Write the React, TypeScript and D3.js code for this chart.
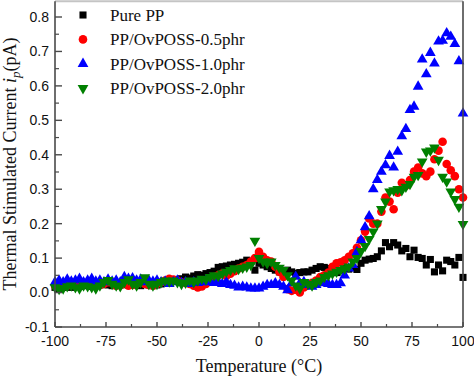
import React from "react";
import * as d3 from "d3";

const temps = [
  -100, -98, -96, -94, -92, -90, -88, -86, -84, -82, -80, -78, -76, -74, -72, -70, -68, -66, -64, -62,
  -60, -58, -56, -54, -52, -50, -48, -46, -44, -42, -40, -38, -36, -34, -32, -30, -28, -26, -24, -22,
  -20, -18, -16, -14, -12, -10, -8, -6, -4, -2, 0, 2, 4, 6, 8, 10, 12, 14, 16, 18,
  20, 22, 24, 26, 28, 30, 32, 34, 36, 38, 40, 42, 44, 46, 48, 50, 52, 54, 56, 58,
  60, 62, 64, 66, 68, 70, 72, 74, 76, 78, 80, 82, 84, 86, 88, 90, 92, 94, 96, 98, 100,
];

const purePP = [
  0.015, 0.012, 0.015, 0.018, 0.015, 0.02, 0.018, 0.02, 0.022, 0.018, 0.02, 0.022, 0.025, 0.022, 0.02, 0.025, 0.022, 0.025, 0.022, 0.025,
  0.022, 0.02, 0.025, 0.022, 0.02, 0.022, 0.025, 0.028, 0.03, 0.035, 0.038, 0.04, 0.045, 0.042, 0.048, 0.052, 0.05, 0.055, 0.058, 0.062,
  0.073, 0.075, 0.077, 0.08, 0.082, 0.085, 0.088, 0.094, 0.09, 0.065, 0.085, 0.08, 0.075, 0.07, 0.065, 0.06, 0.058, 0.065, 0.06, 0.056,
  0.058, 0.06, 0.06, 0.065, 0.07, 0.075, 0.073, 0.07, 0.062, 0.058, 0.065, 0.07, 0.068, 0.072, 0.067, 0.085, 0.094, 0.097, 0.099, 0.104,
  0.121, 0.145, 0.133, 0.145, 0.138, 0.121, 0.128, 0.104, 0.123, 0.102, 0.099, 0.08, 0.096, 0.06, 0.08, 0.063, 0.094, 0.09, 0.08, 0.102, 0.044,
];

const pp05 = [
  0.02, 0.022, 0.025, 0.02, 0.025, 0.022, 0.025, 0.028, 0.025, 0.03, 0.025, 0.022, 0.025, 0.03, 0.028, 0.02, 0.022, 0.025, 0.02, 0.022,
  0.025, 0.03, 0.025, 0.022, 0.02, 0.025, 0.03, 0.035, 0.04, 0.038, 0.035, 0.03, 0.028, 0.025, 0.02, 0.015, 0.018, 0.025, 0.035, 0.045,
  0.05, 0.055, 0.048, 0.055, 0.062, 0.07, 0.075, 0.08, 0.09, 0.1, 0.118, 0.104, 0.094, 0.09, 0.075, 0.06, 0.045, 0.01, 0.005, 0.008,
  0.0, 0.015, 0.022, 0.028, 0.035, 0.045, 0.05, 0.058, 0.075, 0.085, 0.088, 0.094, 0.104, 0.114, 0.13, 0.152, 0.177, 0.215, 0.2, 0.2,
  0.235, 0.276, 0.264, 0.242, 0.29, 0.319, 0.31, 0.327, 0.351, 0.363, 0.346, 0.338, 0.351, 0.387, 0.412, 0.438, 0.373, 0.355, 0.338, 0.3, 0.276,
];

const pp10 = [
  0.03, 0.035, 0.03, 0.038, 0.032, 0.035, 0.04, 0.03, 0.035, 0.04, 0.032, 0.035, 0.03, 0.038, 0.032, 0.035, 0.03, 0.045, 0.04, 0.042,
  0.035, 0.038, 0.03, 0.035, 0.032, 0.035, 0.03, 0.032, 0.025, 0.03, 0.035, 0.028, 0.03, 0.025, 0.03, 0.028, 0.03, 0.035, 0.03, 0.028,
  0.032, 0.025, 0.03, 0.022, 0.02, 0.015, 0.017, 0.015, 0.012, 0.012, 0.012, 0.017, 0.022, 0.022, 0.027, 0.022, 0.017, 0.007, 0.027, 0.046,
  0.027, 0.031, 0.022, 0.017, 0.022, 0.027, 0.031, 0.025, 0.022, 0.022, 0.027, 0.05, 0.07, 0.08, 0.118, 0.152, 0.19, 0.222, 0.3, 0.327,
  0.351, 0.37, 0.397, 0.363, 0.409, 0.454, 0.475, 0.53, 0.54, 0.598, 0.677, 0.634, 0.696, 0.665, 0.729, 0.731, 0.753, 0.743, 0.722, 0.672, 0.52,
];

const pp20 = [
  0.015, 0.01, 0.012, 0.018, 0.02, 0.015, 0.012, 0.02, 0.018, 0.015, 0.012, 0.02, 0.03, 0.036, 0.025, 0.02, 0.018, 0.03, 0.038, 0.025,
  0.02, 0.03, 0.044, 0.025, 0.02, 0.025, 0.03, 0.035, 0.032, 0.035, 0.03, 0.025, 0.028, 0.035, 0.03, 0.035, 0.04, 0.038, 0.045, 0.05,
  0.048, 0.055, 0.06, 0.065, 0.07, 0.068, 0.072, 0.075, 0.08, 0.15, 0.1, 0.09, 0.085, 0.09, 0.08, 0.072, 0.065, 0.05, 0.035, 0.02,
  0.012, 0.03, 0.025, 0.02, 0.03, 0.035, 0.045, 0.05, 0.055, 0.06, 0.065, 0.07, 0.075, 0.09, 0.1, 0.12, 0.135, 0.155, 0.177, 0.2,
  0.242, 0.264, 0.293, 0.297, 0.3, 0.297, 0.307, 0.315, 0.336, 0.341, 0.38, 0.409, 0.412, 0.421, 0.385, 0.336, 0.322, 0.293, 0.271, 0.249, 0.199,
];

const seriesNames = ["Pure PP", "PP/OvPOSS-0.5phr", "PP/OvPOSS-1.0phr", "PP/OvPOSS-2.0phr"];
const seriesColors = ["#000000", "#ff0000", "#0000ff", "#008000"];
const seriesValues = [purePP, pp05, pp10, pp20];

const xTicks = [-100, -75, -50, -25, 0, 25, 50, 75, 100];
const yTicks = [-0.1, 0.0, 0.1, 0.2, 0.3, 0.4, 0.5, 0.6, 0.7, 0.8];

const W = 474;
const H = 377;

export default function App() {
  const x = d3.scaleLinear().domain([-100, 100]).range([55, 463]);
  const y = d3.scaleLinear().domain([-0.1, 0.8]).range([327, 17]);
  const yTop = y(0.846);

  const shapes = [
    d3.symbol().type(d3.symbolSquare).size(50),
    d3.symbol().type(d3.symbolCircle).size(58),
    d3.symbol().type(d3.symbolTriangle).size(50),
    d3.symbol().type(d3.symbolTriangle).size(50),
  ];
  const rot = [0, 0, 0, 180];

  const xMinor = d3.range(-87.5, 100, 25);
  const yMinor = d3.range(-0.05, 0.85, 0.1);
  const axisColor = "#4a4a4a";
  const sans = "'Liberation Sans', Arial, sans-serif";
  const serif = "'Liberation Serif', 'Times New Roman', serif";

  return (
    <svg width={W} height={H} style={{ position: "absolute", left: 0, top: 0, background: "#fff" }}>
      <rect x={0} y={0} width={W} height={H} fill="#fff" />
      {seriesValues.map((vals, si) => (
        <g key={si} fill={seriesColors[si]}>
          {vals.map((v, i) => (
            <path
              key={i}
              d={shapes[si]() as string}
              transform={`translate(${x(temps[i])},${y(v)}) rotate(${rot[si]})`}
            />
          ))}
        </g>
      ))}
      <line x1={x(-100)} x2={x(100)} y1={yTop} y2={yTop} stroke="#c4c4c4" strokeWidth={2} />
      <line x1={x(100)} x2={x(100)} y1={yTop} y2={y(-0.1)} stroke={axisColor} strokeWidth={1.6} />
      <line x1={x(-100)} x2={x(-100)} y1={yTop} y2={y(-0.1)} stroke={axisColor} strokeWidth={1.6} />
      <line x1={x(-100)} x2={x(100)} y1={y(-0.1)} y2={y(-0.1)} stroke={axisColor} strokeWidth={1.6} />
      {yTicks.map((t) => (
        <g key={t}>
          <line x1={x(-100)} x2={x(-100) + 7} y1={y(t)} y2={y(t)} stroke={axisColor} strokeWidth={1.4} />
          <text x={x(-100) - 6} y={y(t)} dy="0.35em" textAnchor="end" fontFamily={sans} fontSize={14} fill="#111">
            {t.toFixed(1)}
          </text>
        </g>
      ))}
      {yMinor.map((t) => (
        <line key={t} x1={x(-100)} x2={x(-100) + 4} y1={y(t)} y2={y(t)} stroke={axisColor} strokeWidth={1.2} />
      ))}
      {xTicks.map((t) => (
        <g key={t}>
          <line x1={x(t)} x2={x(t)} y1={y(-0.1)} y2={y(-0.1) - 5} stroke={axisColor} strokeWidth={1.4} />
          <text x={x(t)} y={346} textAnchor="middle" fontFamily={sans} fontSize={14} fill="#111">
            {t}
          </text>
        </g>
      ))}
      {xMinor.map((t) => (
        <line key={t} x1={x(t)} x2={x(t)} y1={y(-0.1)} y2={y(-0.1) - 3} stroke={axisColor} strokeWidth={1.2} />
      ))}
      <text x={x(0)} y={372} textAnchor="middle" fontFamily={serif} fontSize={18} fill="#111">
        Temperature (°C)
      </text>
      <text
        transform={`translate(16,${(yTop + y(-0.1)) / 2}) rotate(-90)`}
        textAnchor="middle"
        fontFamily={serif}
        fontSize={18}
        fill="#111"
      >
        Thermal Stimulated Current <tspan fontStyle="italic">i</tspan>
        <tspan fontStyle="italic" fontSize={13} dy={4}>p</tspan>
        <tspan dy={-4}>(pA)</tspan>
      </text>
      {seriesNames.map((name, si) => {
        const ly = 15 + si * 24.4;
        return (
          <g key={name}>
            <path d={shapes[si]() as string} fill={seriesColors[si]} transform={`translate(83,${ly}) rotate(${rot[si]})`} />
            <text x={110} y={ly + 6} fontFamily={serif} fontSize={17} fill="#111">
              {name}
            </text>
          </g>
        );
      })}
    </svg>
  );
}
